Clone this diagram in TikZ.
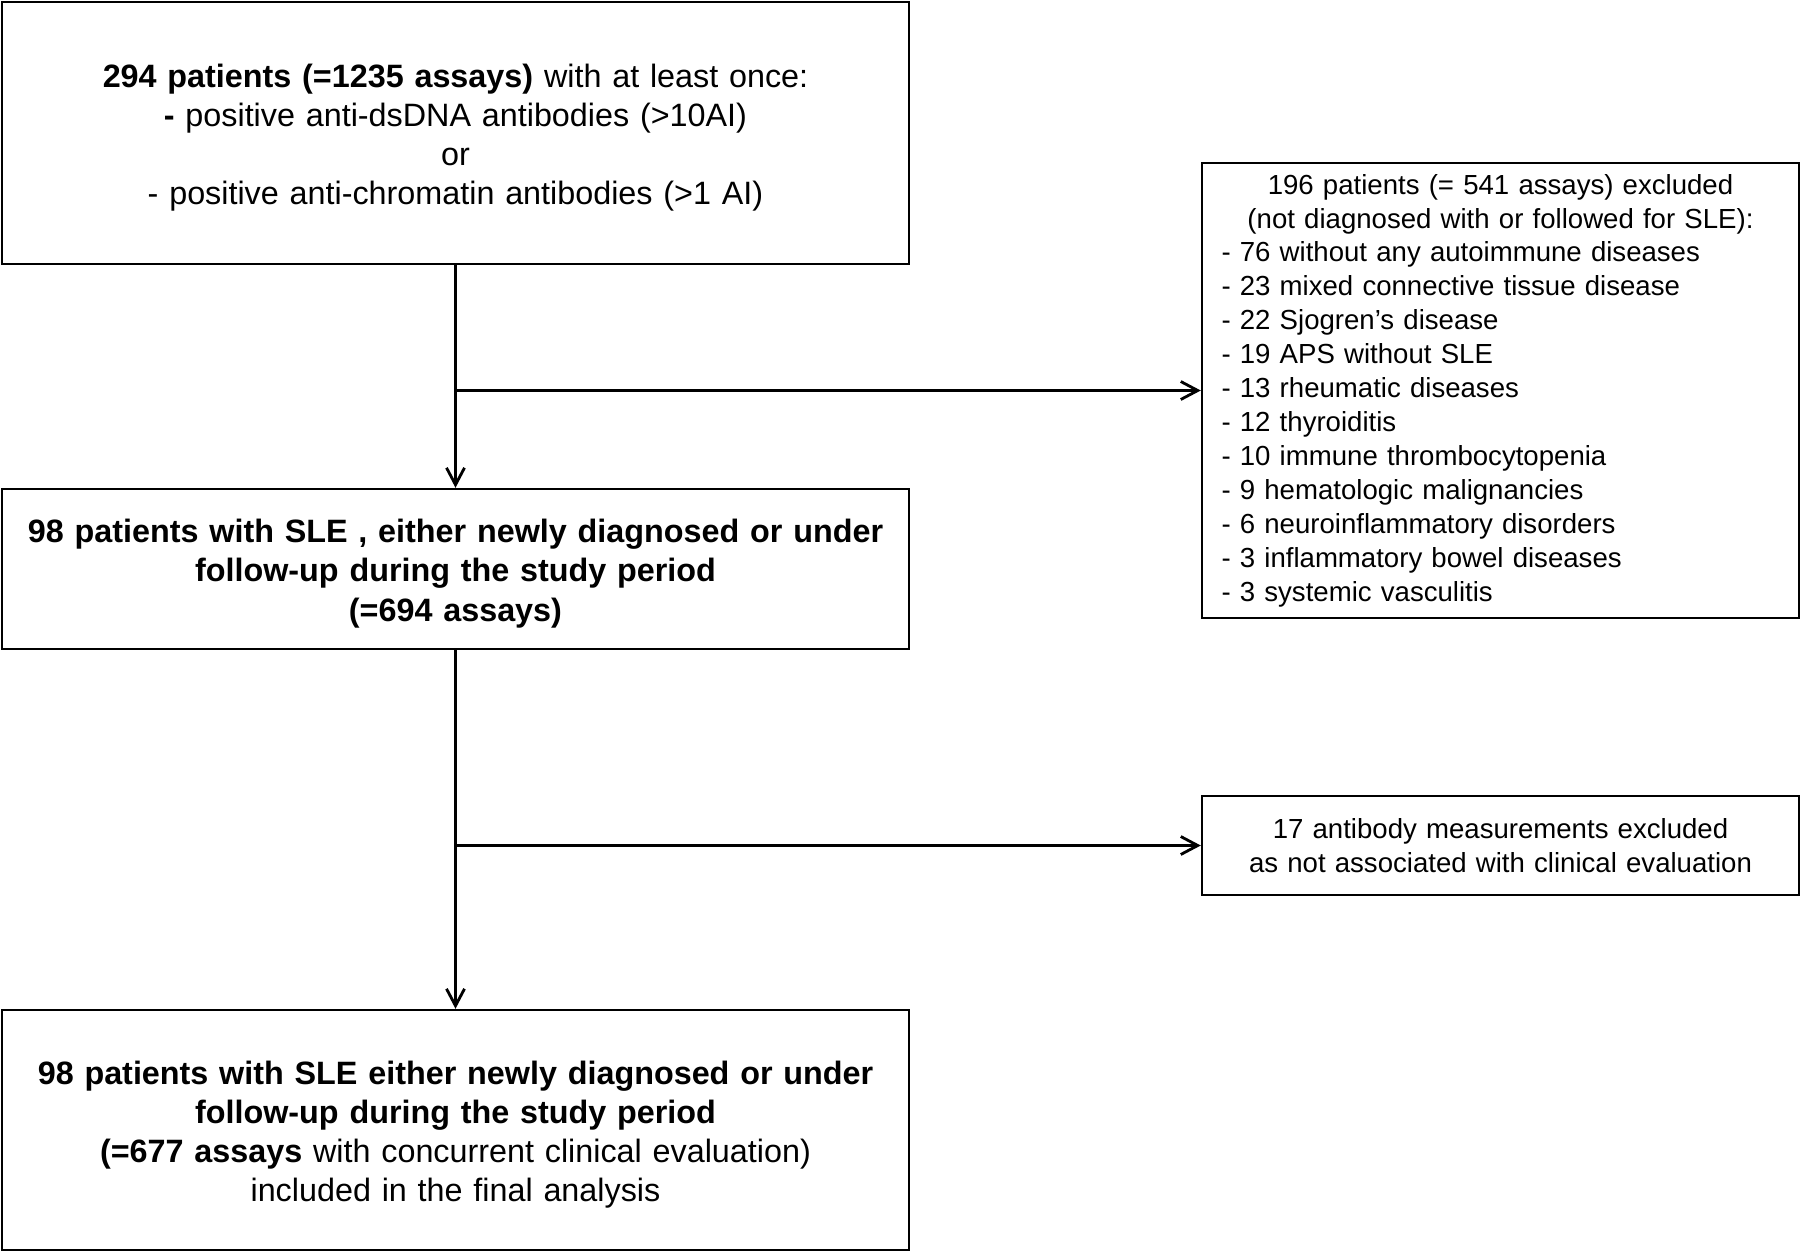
\documentclass[tikz,border=0pt]{standalone}
\usepackage{fontspec}
\setmainfont{Liberation Sans}
\usetikzlibrary{arrows.meta}

\begin{document}
\begin{tikzpicture}[every path/.style={>={Straight Barb[length=1.7mm,width=1.8mm]}},
                    line width=0.8pt,
                    every node/.style={draw,line width=0.7pt,inner sep=0pt},
                    mainbox/.style={minimum width=9.07cm,text width=8.9cm,align=center,
                                    font=\fontsize{9.2}{11.1}\selectfont,
                                    execute at begin node=\rule{0pt}{9.3pt}},
                    exclbox/.style={minimum width=5.97cm,text width=5.58cm,align=left,
                                    font=\fontsize{7.85}{9.65}\selectfont}]
  \useasboundingbox (0,0) rectangle (18,-12.52);
  \node[mainbox,minimum height=2.62cm] (a) at (4.555,-1.33)
    {\textbf{294 patients (=1235 assays)} with at least once:\\
     \textbf{-} positive anti-dsDNA antibodies (>10AI)\\ or\\
     - positive anti-chromatin antibodies (>1 AI)};
  \node[mainbox,minimum height=1.60cm] (b) at (4.555,-5.69)
    {\textbf{98 patients with SLE , either newly diagnosed or under\\
     follow-up during the study period\\ (=694 assays)}};
  \node[mainbox,minimum height=2.40cm] (c) at (4.555,-11.30)
    {\textbf{98 patients with SLE either newly diagnosed or under\\
     follow-up during the study period}\\
     \textbf{(=677 assays} with concurrent clinical evaluation)\\
     included in the final analysis};
  \node[exclbox,minimum height=4.55cm] (d) at (15.005,-3.905)
    {\makebox[5.58cm]{196 patients (= 541 assays) excluded}\\
     \makebox[5.58cm]{(not diagnosed with or followed for SLE):}\\
     - 76 without any autoimmune diseases\\
     - 23 mixed connective tissue disease\\
     - 22 Sjogren’s disease\\
     - 19 APS without SLE\\
     - 13 rheumatic diseases\\
     - 12 thyroiditis\\
     - 10 immune thrombocytopenia\\
     - 9 hematologic malignancies\\
     - 6 neuroinflammatory disorders\\
     - 3 inflammatory bowel diseases\\
     - 3 systemic vasculitis};
  \node[exclbox,minimum height=0.99cm,align=center] (e) at (15.005,-8.455)
    {17 antibody measurements excluded\\ as not associated with clinical evaluation};
  \coordinate (p) at (a.south |- d.west);
  \coordinate (q) at (b.south |- e.west);
  \draw[->] (a) -- (b);
  \draw[->] (b) -- (c);
  \draw[->] (p) -- (d);
  \draw[->] (q) -- (e);
\end{tikzpicture}
\end{document}
